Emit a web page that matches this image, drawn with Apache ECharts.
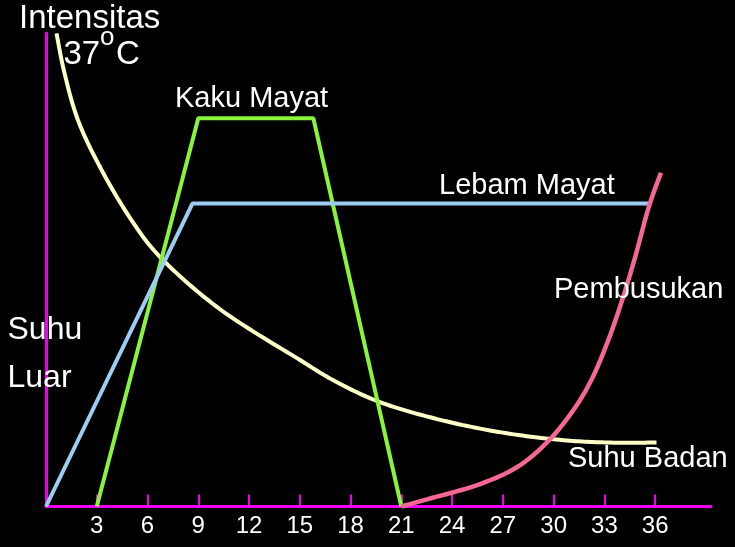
<!DOCTYPE html>
<html>
<head>
<meta charset="utf-8">
<script src="https://cdn.jsdelivr.net/npm/echarts@6/dist/echarts.min.js"></script>
<style>
  html, body { margin: 0; padding: 0; background: #000; }
  #chart { width: 735px; height: 547px; }
</style>
</head>
<body>
<div id="chart"></div>
<script>
// Tick labels on the time axis
const xTicks = [3, 6, 9, 12, 15, 18, 21, 24, 27, 30, 33, 36];

// Suhu Badan (body temperature) – [x, intensity]
const suhuBadan = [
  [0.62, 99.9], [1.05, 92.2], [1.89, 81.6], [3.28, 71.1], [5.05, 60.5],
  [6.53, 53.5], [10.08, 42.2], [15.01, 30.94], [16.96, 26.7], [19.55, 22.3],
  [22.7, 18.84], [26.65, 15.8], [30.59, 14.0], [33.36, 13.5], [36.08, 13.5]
];

// Kaku Mayat (rigor mortis)
const kakuMayat = [[3, 0], [9.0, 82.0], [15.8, 82.0], [21.0, 0]];

// Lebam Mayat (livor mortis)
const lebamMayat = [[0, 0], [8.66, 64.0], [35.62, 64.0]];

// Pembusukan (decomposition)
const pembusukan = [
  [21.0, 0], [22.7, 1.69], [25.66, 4.75], [27.85, 8.34], [29.63, 13.62],
  [31.17, 20.38], [32.23, 26.72], [33.3, 35.8], [34.05, 43.6], [34.77, 52.06],
  [35.66, 63.67], [36.34, 70.5]
];

const FONT = '"Liberation Sans", Arial, sans-serif';
const MAGENTA = '#f000f0';

function txt(text, x, y, size) {
  return {
    type: 'text', z: 100,
    style: {
      text: text, x: x, y: y,
      font: size + 'px ' + FONT,
      fill: '#ffffff',
      textAlign: 'left', textVerticalAlign: 'middle',
      align: 'left', verticalAlign: 'middle'
    }
  };
}

// centripetal Catmull-Rom through pixel points (obtained from api.coord)
function catmullRom(pts, steps) {
  const n = pts.length;
  if (n < 3) return pts.slice();
  const out = [pts[0]];
  const d = (a, b) => Math.pow(Math.hypot(b[0] - a[0], b[1] - a[1]), 0.5) || 1e-6;
  for (let i = 0; i < n - 1; i++) {
    const p1 = pts[i], p2 = pts[i + 1];
    const p0 = i > 0 ? pts[i - 1] : [2 * p1[0] - p2[0], 2 * p1[1] - p2[1]];
    const p3 = i < n - 2 ? pts[i + 2] : [2 * p2[0] - p1[0], 2 * p2[1] - p1[1]];
    const t0 = 0, t1 = t0 + d(p0, p1), t2 = t1 + d(p1, p2), t3 = t2 + d(p2, p3);
    for (let s = 1; s <= steps; s++) {
      const t = t1 + (t2 - t1) * s / steps;
      const lerp = (a, b, ta, tb) => [
        ((tb - t) * a[0] + (t - ta) * b[0]) / (tb - ta),
        ((tb - t) * a[1] + (t - ta) * b[1]) / (tb - ta)
      ];
      const A1 = lerp(p0, p1, t0, t1), A2 = lerp(p1, p2, t1, t2), A3 = lerp(p2, p3, t2, t3);
      const B1 = lerp(A1, A2, t0, t2), B2 = lerp(A2, A3, t1, t3);
      out.push(lerp(B1, B2, t1, t2));
    }
  }
  return out;
}

function curveSeries(name, data, color, width, z) {
  return {
    name: name, type: 'custom', coordinateSystem: 'cartesian2d', data: data, z: z, clip: false,
    encode: { x: 0, y: 1 },
    renderItem: function (params, api) {
      if (params.dataIndex !== 0) return null;
      const pts = data.map(p => api.coord(p));
      return {
        type: 'polyline',
        shape: { points: catmullRom(pts, 16) },
        style: { stroke: color, lineWidth: width, fill: null }
      };
    }
  };
}

const chart = echarts.init(document.getElementById('chart'));
chart.setOption({
  backgroundColor: '#000000',
  animation: false,
  grid: { left: 46, right: 24, top: 33, bottom: 40.5 },
  xAxis: {
    type: 'value', min: 0, max: 39.3,
    splitLine: { show: false },
    axisLine: { show: true, onZero: false, lineStyle: { color: MAGENTA, width: 3 } },
    axisTick: { show: true, inside: true, length: 12, customValues: xTicks,
                lineStyle: { color: MAGENTA, width: 2 } },
    axisLabel: { show: true, customValues: xTicks, color: '#ffffff', fontSize: 24,
                 fontFamily: FONT, margin: 8 }
  },
  yAxis: {
    type: 'value', min: 0, max: 100,
    splitLine: { show: false },
    axisLine: { show: true, onZero: false, lineStyle: { color: MAGENTA, width: 3 } },
    axisTick: { show: false },
    axisLabel: { show: false }
  },
  series: [
    curveSeries('Suhu Badan', suhuBadan, '#ffffc8', 4, 2),
    { name: 'Kaku Mayat', type: 'line', data: kakuMayat, showSymbol: false, symbol: 'none', z: 3,
      lineStyle: { color: '#88f53a', width: 4 } },
    { name: 'Lebam Mayat', type: 'line', data: lebamMayat, showSymbol: false, symbol: 'none', z: 4,
      lineStyle: { color: '#9ccdf5', width: 4 } },
    curveSeries('Pembusukan', pembusukan, '#f56894', 4.5, 5)
  ],
  graphic: [
    txt('Intensitas', 19, 19, 33),
    txt('37', 63.5, 55, 33),
    txt('o', 100, 38, 26),
    txt('C', 116, 55, 33),
    txt('Kaku Mayat', 175, 99, 29),
    txt('Lebam Mayat', 439, 186, 29),
    txt('Pembusukan', 554, 290, 29),
    txt('Suhu Badan', 568, 459, 29),
    txt('Suhu', 7.5, 330, 32),
    txt('Luar', 7.5, 378.5, 32)
  ]
});
</script>
</body>
</html>
